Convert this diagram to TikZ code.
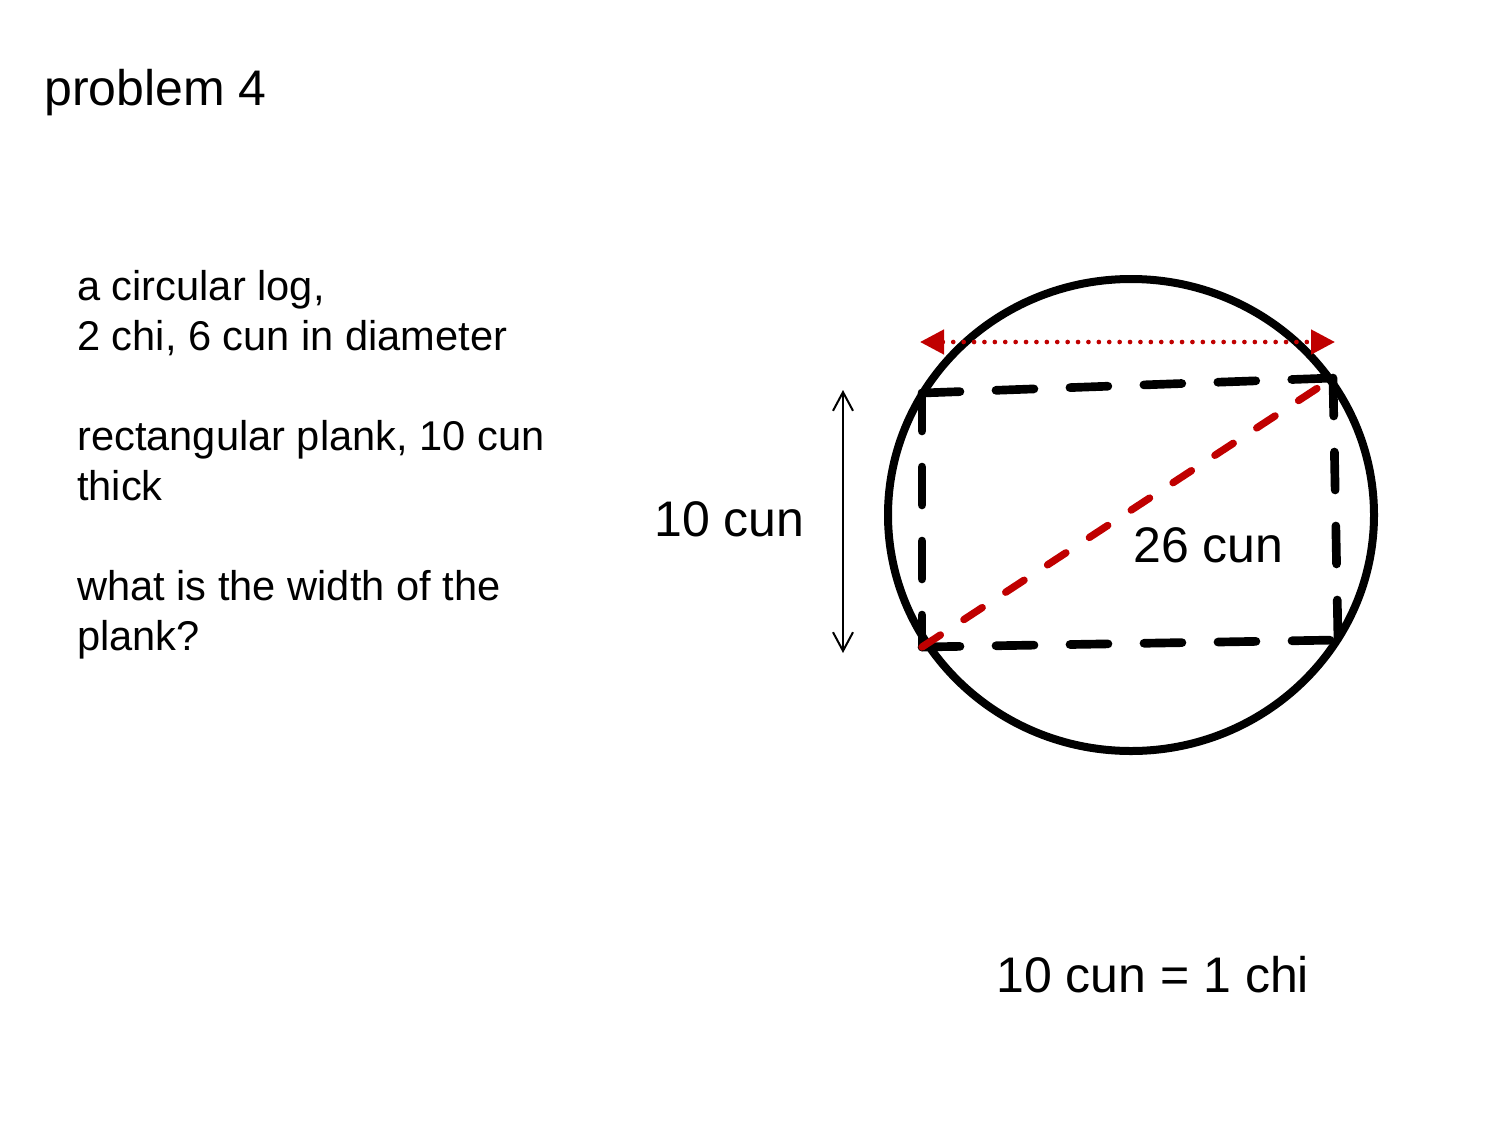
\documentclass[tikz,border=0pt]{standalone}
\usepackage{fontspec}
\setmainfont{Liberation Sans}
\usetikzlibrary{arrows.meta}
\definecolor{logred}{RGB}{192,0,0}

\begin{document}
\begin{tikzpicture}[x=0.75pt,y=0.75pt,yscale=-1,xscale=1,
  plank/.style={line width=6.5pt, dash pattern=on 28.5pt off 27pt, line cap=round},
  diag/.style={color=logred, line width=5.5pt, dash pattern=on 16.5pt off 21pt, line cap=round},
  label/.style={inner sep=0pt, anchor=base west, font=\fontsize{37.5}{45}\selectfont},
  body/.style={inner sep=0pt, anchor=base west, font=\fontsize{31.2}{37.5}\selectfont}]
\useasboundingbox (0,0) rectangle (1500,1125);
%Plank corners
\coordinate (tl) at (922,393);
\coordinate (tr) at (1333,378);
\coordinate (br) at (1338,640);
\coordinate (bl) at (922,647);
\coordinate (wl) at (920,342);
\coordinate (wr) at (1335,342);
\coordinate (h1) at (843,390);
\coordinate (h2) at (843,653);
%Shape: Ellipse [log]
\draw [line width=6pt]  (1131,515) ellipse [x radius=243, y radius=236];
%Straight Lines [plank top]
\draw [plank]  (tl) -- (tr) ;
%Straight Lines [plank right]
\draw [plank]  (tr) -- (br) ;
%Straight Lines [plank bottom]
\draw [plank]  (bl) -- (br) ;
%Straight Lines [plank left]
\draw [plank]  (tl) -- (bl) ;
%Straight Lines [diagonal]
\draw [diag]  (bl) -- (tr) ;
%Straight Lines [width]
\draw [color=logred, line width=3.5pt, dash pattern=on 0pt off 7.8pt, line cap=round, {Triangle[length=18pt,width=18pt]}-{Triangle[length=18pt,width=18pt]}]  (wl) -- (wr) ;
%Straight Lines [thickness]
\draw [line width=1.5pt, {Straight Barb[length=14pt,width=15pt]}-{Straight Barb[length=14pt,width=15pt]}]  (h1) -- (h2) ;
% Text Node
\draw (44,105) node [label] (title) {problem 4};
% Text Node
\draw (77,300) node [body] (log1) {a circular log,};
% Text Node
\draw (77,350) node [body] (log2) {2 chi, 6 cun in diameter};
% Text Node
\draw (77,450) node [body] (plank1) {rectangular plank, 10 cun};
% Text Node
\draw (77,500) node [body] (plank2) {thick};
% Text Node
\draw (77,600) node [body] (ask1) {what is the width of the};
% Text Node
\draw (77,650) node [body] (ask2) {plank?};
% Text Node
\draw (654,536) node [label] (thick) {10 cun};
% Text Node
\draw (1133,562) node [label] (diam) {26 cun};
% Text Node
\draw (996,992) node [label] (unit) {10 cun = 1 chi};
\end{tikzpicture}
\end{document}
